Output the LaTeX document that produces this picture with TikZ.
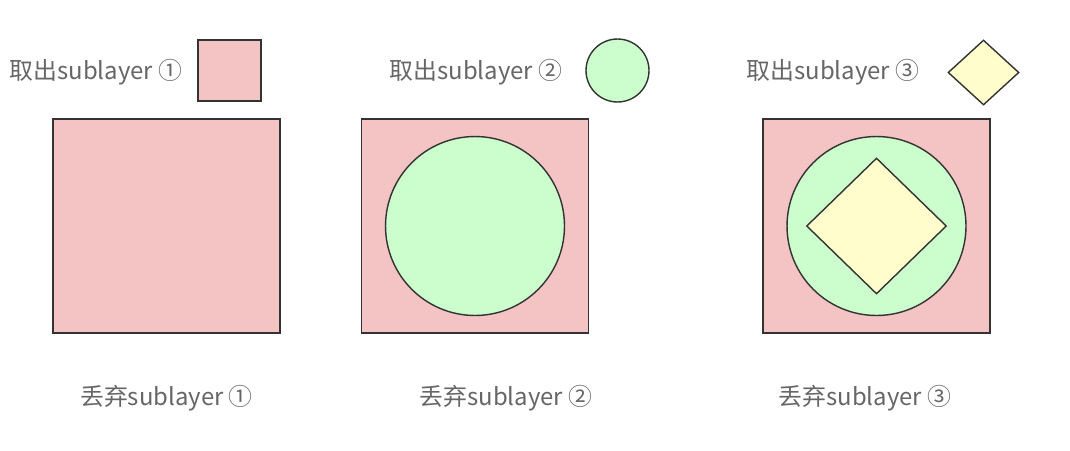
\documentclass[tikz,border=0pt]{standalone}
\usepackage{fontspec}
\setmainfont{Noto Sans CJK SC}
\usetikzlibrary{shapes.geometric}

\definecolor{layerred}{HTML}{F4C3C3}
\definecolor{layergreen}{HTML}{CCFDCC}
\definecolor{layeryellow}{HTML}{FFFDCC}
\definecolor{labelgray}{HTML}{666666}

\begin{document}
\begin{tikzpicture}[
            x=0.02cm,
            y=-0.02cm,
            layer/.style={
                draw=black!80,
                line width=0.8pt,
                inner sep=0pt
            },
            bigsquare/.style={
                layer,
                rectangle,
                fill=layerred,
                minimum width=4.54cm,
                minimum height=4.28cm
            },
            bigcircle/.style={
                layer,
                circle,
                fill=layergreen,
                minimum size=3.58cm
            },
            bigdiamond/.style={
                layer,
                diamond,
                fill=layeryellow,
                minimum width=2.8cm,
                minimum height=2.72cm
            },
            caption/.style={
                text=labelgray,
                font=\fontsize{13.6}{16}\selectfont
            }
        ]
        \useasboundingbox (0,0) rectangle (1070,450);
        % taken out
        \node[caption] (take1) at (96,72) {取出sublayer ①};
        \node[caption] (take2) at (476,72) {取出sublayer ②};
        \node[caption] (take3) at (833,72) {取出sublayer ③};
        \node[layer, rectangle, fill=layerred, minimum width=1.26cm, minimum height=1.22cm] (piece1) at (229.5,70.5) {};
        \node[layer, circle, fill=layergreen, minimum size=1.26cm] (piece2) at (617.5,70.5) {};
        \node[layer, diamond, fill=layeryellow, minimum width=1.42cm, minimum height=1.30cm] (piece3) at (983.5,72.5) {};
        % stacks
        \node[bigsquare] (stack1) at (166.5,226) {};
        \node[bigsquare] (stack2) at (475,226) {};
        \node[bigcircle] (ring2) at (stack2) {};
        \node[bigsquare] (stack3) at (876.5,226) {};
        \node[bigcircle] (ring3) at (stack3) {};
        \node[bigdiamond] (core3) at (stack3) {};
        % dropped
        \node[caption] (drop1) at (166.5,398) {丢弃sublayer ①};
        \node[caption] (drop2) at (506,398) {丢弃sublayer ②};
        \node[caption] (drop3) at (865,398) {丢弃sublayer ③};
        \end{tikzpicture}
\end{document}
